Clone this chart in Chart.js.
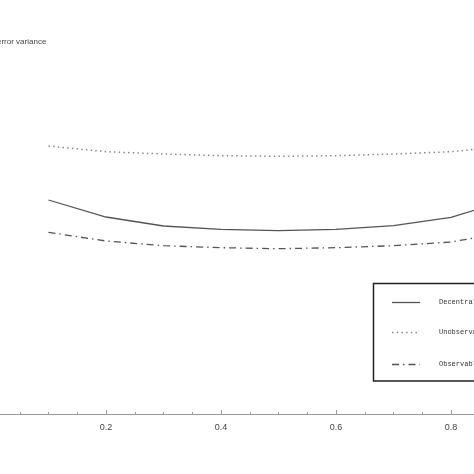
<!DOCTYPE html>
<html>
<head>
<meta charset="utf-8">
<script src="https://cdn.jsdelivr.net/npm/chart.js@4"></script>
<style>
  html, body { margin: 0; padding: 0; background: #fff; overflow: hidden; }
  #wrap { position: relative; width: 474px; height: 474px; }
</style>
</head>
<body>
<div id="wrap"><canvas id="chart"></canvas></div>
<script>
// dane
const xValues = [0.1, 0.2, 0.3, 0.4, 0.5, 0.6, 0.7, 0.8, 0.9];
const decentralized = [2.14, 1.97, 1.88, 1.847, 1.833, 1.847, 1.883, 1.967, 2.14];
const unobservable = [2.68, 2.623, 2.60, 2.583, 2.577, 2.583, 2.60, 2.623, 2.68];
const observable = [1.817, 1.73, 1.683, 1.663, 1.653, 1.663, 1.683, 1.72, 1.82];
const seriesLabels = ["Decentralized", "Unobservable", "Observable"];
const yTitle = "error variance";

const pts = arr => xValues.map((x, i) => ({ x, y: arr[i] }));

// ────────────────────────────────────────────────
// wlasny plugin: znaczniki do gory, tytul osi, legenda w ramce
// ────────────────────────────────────────────────
const extras = {
  id: "extras",
  afterDraw(chart) {
    const ctx = chart.ctx;
    const xs = chart.scales.x;
    const base = chart.chartArea.bottom;
    ctx.save();
    ctx.strokeStyle = "#999";
    ctx.lineWidth = 1;
    xs.ticks.forEach(t => {
      const px = Math.round(xs.getPixelForValue(t.value)) + 0.5;
      const major = Math.abs(t.value / 0.2 - Math.round(t.value / 0.2)) < 1e-6;
      ctx.beginPath();
      ctx.moveTo(px, base);
      ctx.lineTo(px, base - (major ? 4 : 2));
      ctx.stroke();
    });

    ctx.fillStyle = "#444";
    ctx.font = "8px 'Liberation Sans', Arial, sans-serif";
    ctx.textBaseline = "middle";
    ctx.fillText(yTitle, -3, 42);

    // legenda
    ctx.strokeStyle = "#222";
    ctx.lineWidth = 1.5;
    ctx.strokeRect(373.5, 283.5, 120, 97.5);
    const rows = [302, 332, 364];
    ctx.font = "7px 'Liberation Mono', 'DejaVu Sans Mono', monospace";
    chart.data.datasets.forEach((ds, i) => {
      ctx.strokeStyle = ds.borderColor;
      ctx.lineWidth = ds.borderWidth;
      ctx.setLineDash(ds.borderDash || []);
      ctx.beginPath();
      ctx.moveTo(392, rows[i] + 0.5);
      ctx.lineTo(420, rows[i] + 0.5);
      ctx.stroke();
      ctx.setLineDash([]);
      ctx.fillStyle = "#333";
      ctx.fillText(ds.label, 439, rows[i]);
    });
    ctx.restore();
  }
};

new Chart(document.getElementById("chart"), {
  type: "line",
  data: {
    datasets: [
      { label: seriesLabels[0], data: pts(decentralized), borderColor: "#555", borderWidth: 1.3, borderDash: [] },
      { label: seriesLabels[1], data: pts(unobservable), borderColor: "#888", borderWidth: 1.5, borderDash: [1.5, 3.2] },
      { label: seriesLabels[2], data: pts(observable), borderColor: "#555", borderWidth: 1.3, borderDash: [7, 4, 1.5, 4] }
    ]
  },
  options: {
    responsive: true,
    maintainAspectRatio: false,
    animation: false,
    layout: { padding: 0 },
    elements: { point: { radius: 0 }, line: { tension: 0 } },
    plugins: { legend: { display: false }, tooltip: { enabled: false } },
    scales: {
      x: {
        type: "linear",
        min: 0.0157,
        max: 0.84,
        afterBuildTicks: s => {
          const t = [];
          for (let v = 0.05; v < 0.84; v += 0.05) t.push({ value: Math.round(v * 100) / 100 });
          s.ticks = t;
        },
        afterFit: s => { s.height = 60; },
        grid: { display: false, drawTicks: false },
        border: { display: true, color: "#999", width: 1 },
        ticks: {
          padding: 8,
          autoSkip: false,
          maxRotation: 0,
          color: "#444",
          font: { family: "'Liberation Sans', Arial, sans-serif", size: 9 },
          callback: v => (Math.abs(v / 0.2 - Math.round(v / 0.2)) < 1e-6 ? v.toFixed(1) : "")
        }
      },
      y: { display: false, min: 0, max: 4.14 }
    }
  },
  plugins: [extras]
});
</script>
</body>
</html>
